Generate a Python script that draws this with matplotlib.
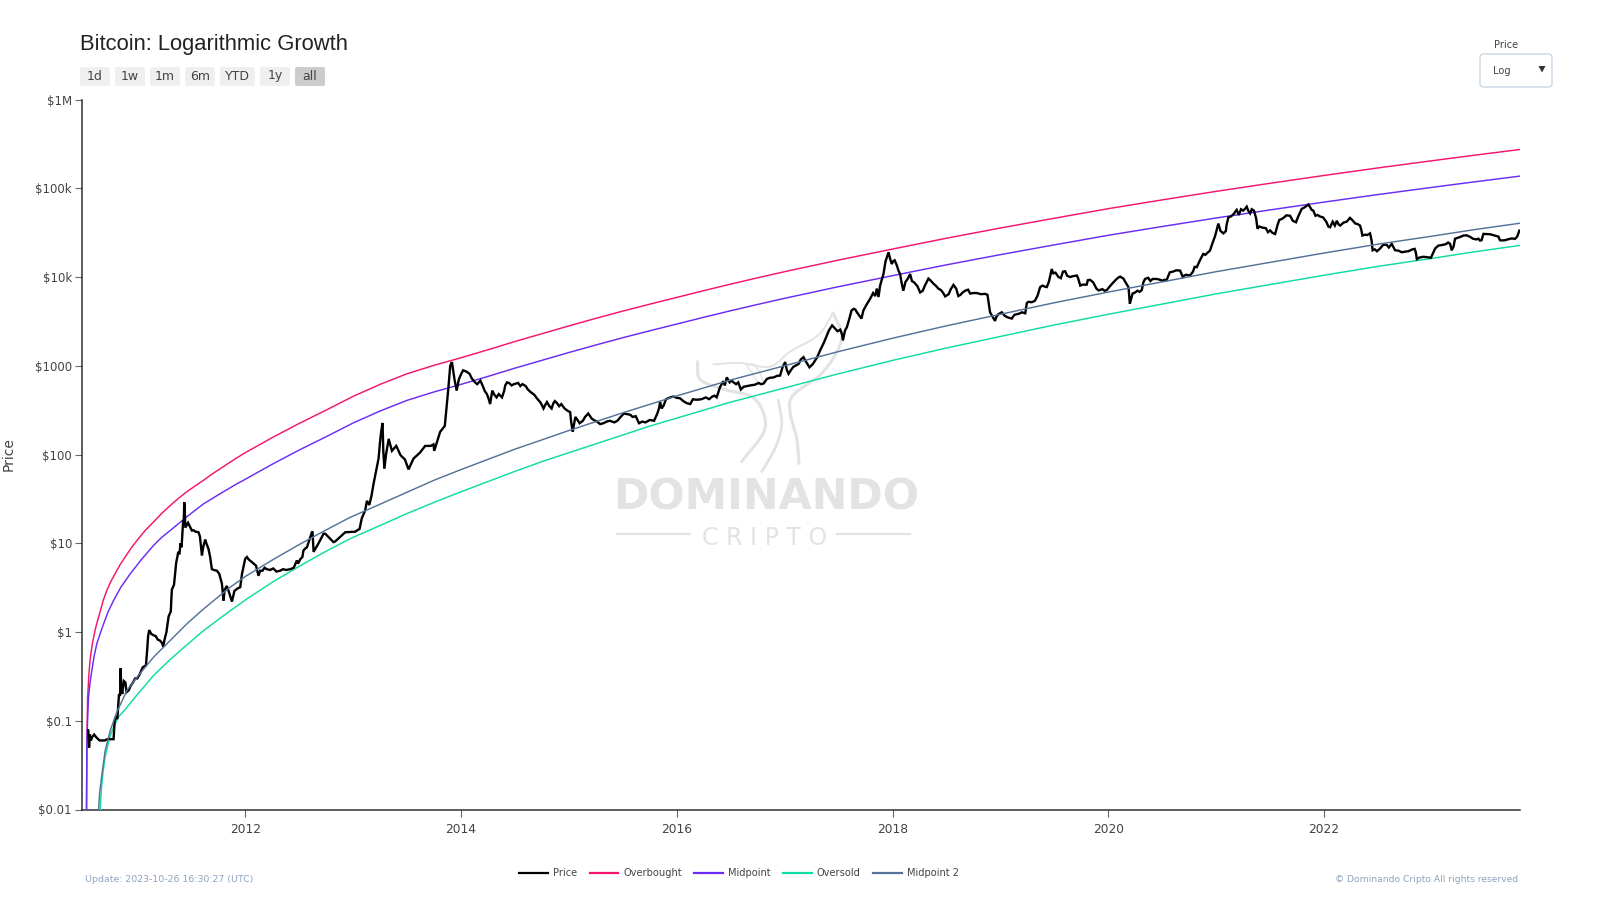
import numpy as np
import matplotlib
matplotlib.use("Agg")
import matplotlib.pyplot as plt
from matplotlib.lines import Line2D
from matplotlib.patches import FancyBboxPatch, Polygon

# ---------- data ----------
price_t = [2010.545,2010.553,2010.56,2010.57,2010.58,2010.60,2010.62,2010.65,2010.70,2010.72,2010.75,2010.78,2010.79,2010.80,2010.815,2010.83,2010.84,2010.845,2010.85,2010.86,2010.875,2010.89,2010.90,2010.92,2010.94,2010.96,2010.98,
2011.00,2011.02,2011.05,2011.08,2011.09,2011.10,2011.11,2011.13,2011.15,2011.17,2011.19,2011.21,2011.23,2011.24,2011.25,2011.27,2011.29,2011.31,2011.32,2011.34,2011.36,2011.38,2011.39,2011.40,2011.41,2011.42,2011.425,2011.43,2011.435,2011.44,2011.445,2011.47,2011.506,2011.567,2011.599,2011.629,2011.66,2011.691,2011.738,2011.784,2011.799,2011.83,2011.877,2011.954,
2012.00,2012.016,2012.077,2012.123,2012.139,2012.20,2012.324,2012.417,2012.479,2012.51,2012.54,2012.572,2012.618,2012.624,2012.634,2012.68,2012.726,2012.742,2012.818,2012.835,2012.927,
2013.02,2013.035,2013.112,2013.128,2013.19,2013.236,2013.273,2013.28,2013.29,2013.305,2013.33,2013.36,2013.40,2013.44,2013.48,2013.514,2013.56,2013.62,2013.668,2013.72,2013.745,2013.752,2013.807,2013.85,2013.884,2013.90,2013.916,2013.94,2013.96,
2014.02,2014.08,2014.13,2014.18,2014.24,2014.27,2014.29,2014.33,2014.38,2014.427,2014.49,2014.57,2014.65,2014.734,2014.765,2014.797,2014.84,2014.87,2014.93,
2015.012,2015.035,2015.06,2015.10,2015.18,2015.26,2015.29,2015.42,2015.54,2015.62,2015.65,2015.79,2015.846,2015.86,2015.94,
2016.03,2016.125,2016.17,2016.30,2016.37,2016.40,2016.464,2016.49,2016.526,2016.57,2016.594,2016.68,2016.805,2016.835,2016.958,
2017.005,2017.036,2017.10,2017.175,2017.23,2017.30,2017.36,2017.41,2017.44,2017.515,2017.54,2017.577,2017.64,2017.67,2017.712,2017.793,2017.854,2017.87,2017.916,2017.963,2017.993,
2018.02,2018.07,2018.10,2018.163,2018.256,2018.333,2018.425,2018.488,2018.565,2018.61,2018.673,2018.858,2018.904,2018.95,
2019.013,2019.105,2019.23,2019.26,2019.32,2019.368,2019.43,2019.476,2019.538,2019.60,2019.645,2019.708,2019.74,2019.83,2019.91,2019.985,
2020.047,2020.11,2020.187,2020.20,2020.248,2020.31,2020.34,2020.45,2020.54,2020.57,2020.666,2020.69,2020.758,2020.82,2020.88,2020.943,
2021.02,2021.067,2021.113,2021.16,2021.283,2021.314,2021.35,2021.383,2021.50,2021.546,2021.608,2021.685,2021.74,2021.793,2021.855,2021.90,2021.963,
2022.056,2022.118,2022.15,2022.24,2022.333,2022.355,2022.426,2022.45,2022.55,2022.627,2022.658,2022.72,2022.84,2022.86,2022.99,
2023.06,2023.168,2023.183,2023.214,2023.29,2023.446,2023.477,2023.616,2023.65,2023.77,2023.81]
price_v = [0.078,0.05,0.07,0.06,0.065,0.07,0.065,0.06,0.06,0.062,0.062,0.062,0.10,0.11,0.105,0.20,0.19,0.39,0.25,0.20,0.28,0.27,0.21,0.22,0.25,0.27,0.30,
0.30,0.33,0.40,0.42,0.60,0.90,1.05,0.95,0.92,0.90,0.82,0.80,0.75,0.68,0.80,1.0,1.5,1.7,3.0,3.4,6,8,7.5,10,9,14,18,17,29,23,15,17,13.9,13.3,7.3,11,8.6,5.1,4.9,3.5,2.26,3.3,2.2,3.2,
6.7,7,5.9,4.3,4.9,5.1,4.9,5.1,6.4,6.6,8.3,9,13.3,13.3,8,10,12.8,12.8,10.3,10.5,13.3,
13.5,13.9,23.5,30,47,90,227,110,69,100,150,110,125,98,88,68,90,105,125,125,130,110,180,210,575,1000,1100,700,525,
890,810,650,680,480,370,525,440,440,650,620,620,500,390,330,390,330,400,370,
300,180,265,225,290,235,220,230,285,270,225,240,390,330,440,
430,370,415,420,440,570,740,650,650,650,540,600,630,710,775,
1100,810,1000,1250,960,1240,1780,2500,2850,2550,1930,2720,4380,4000,3400,5700,7400,5950,10800,19000,14000,
15400,10800,7000,10800,6700,9600,7400,6050,8150,6100,7000,6460,4000,3200,
4000,3400,3900,5250,5400,7700,7700,12300,10000,11600,10000,10400,8000,9300,7050,7100,
8700,10100,7680,5000,6700,7100,9500,9500,9200,11300,11800,10000,10400,12900,18200,19900,
40000,31000,47000,51000,62000,52000,56000,35000,33500,30500,45000,49000,41400,58600,65600,56000,48000,
36300,43000,38000,46400,38000,29300,31000,20000,23200,23600,20000,19000,20750,15900,16450,
22600,23600,20000,27000,29300,25700,30600,28500,25800,26900,33300]

# finer readings of the price wiggle between the main turning points
detail_t = [2011.52,2011.54,2011.58,2011.61,2011.64,2011.675,2011.71,2011.76,2011.81,2011.85,2011.90,2011.93,2011.97,2011.985,2012.03,
2012.05,2012.10,2012.16,2012.18,2012.23,2012.26,2012.29,2012.35,2012.38,2012.45,2012.49,2012.53,2012.56,
2013.06,2013.08,2013.15,2013.17,2013.21,2013.25,2013.26,
2013.98,2014.00,2014.05,2014.10,2014.15,2014.21,2014.22,2014.255,2014.31,2014.35,2014.40,2014.41,2014.445,2014.47,2014.53,2014.55,2014.60,2014.62,2014.68,2014.71,2014.75,2014.78,2014.82,2014.855,2014.89,2014.91,2014.96,2014.99,
2015.02,2015.08,2015.13,2015.15,2015.21,2015.23,2015.32,2015.35,2015.38,2015.45,2015.48,2015.51,2015.57,2015.59,2015.68,2015.71,2015.75,2015.82,2015.835,2015.88,2015.90,2015.97,
2016.00,2016.06,2016.09,2016.15,2016.20,2016.23,2016.27,2016.33,2016.35,2016.43,2016.445,2016.51,2016.55,2016.62,2016.65,2016.72,2016.76,2016.78,2016.86,2016.90,2016.93,2016.98,
2017.02,2017.06,2017.08,2017.13,2017.15,2017.20,2017.26,2017.33,2017.385,2017.47,2017.49,2017.53,2017.56,2017.60,2017.62,2017.655,2017.69,2017.73,2017.76,2017.82,2017.84,2017.885,2017.90,2017.935,2017.95,2017.975,
2018.005,2018.04,2018.055,2018.085,2018.12,2018.14,2018.18,2018.20,2018.23,2018.28,2018.30,2018.35,2018.38,2018.40,2018.45,2018.47,2018.52,2018.54,2018.59,2018.63,2018.65,2018.70,2018.72,2018.75,2018.78,2018.82,2018.88,2018.92,2018.96,2018.98,
2019.04,2019.07,2019.13,2019.17,2019.20,2019.245,2019.29,2019.345,2019.39,2019.41,2019.45,2019.49,2019.51,2019.56,2019.58,2019.62,2019.67,2019.72,2019.76,2019.80,2019.81,2019.86,2019.89,2019.945,2019.965,
2020.02,2020.07,2020.09,2020.14,2020.16,2020.205,2020.225,2020.27,2020.29,2020.325,2020.37,2020.39,2020.41,2020.48,2020.50,2020.52,2020.60,2020.63,2020.70,2020.72,2020.785,2020.80,2020.85,2020.90,2020.92,2020.96,2020.99,
2021.04,2021.09,2021.095,2021.135,2021.19,2021.21,2021.23,2021.25,2021.27,2021.30,2021.33,2021.37,2021.40,2021.43,2021.46,2021.48,2021.52,2021.57,2021.585,2021.63,2021.65,2021.71,2021.76,2021.82,2021.875,2021.885,2021.92,2021.94,2021.99,
2022.02,2022.04,2022.08,2022.10,2022.135,2022.18,2022.21,2022.26,2022.29,2022.31,2022.345,2022.38,2022.40,2022.44,2022.47,2022.49,2022.52,2022.58,2022.60,2022.64,2022.69,2022.75,2022.78,2022.82,2022.85,2022.88,2022.92,2022.96,
2023.03,2023.10,2023.13,2023.15,2023.20,2023.25,2023.27,2023.32,2023.35,2023.38,2023.41,2023.43,2023.46,2023.50,2023.54,2023.58,2023.63,2023.68,2023.70,2023.74,2023.79]
detail_v = [14,13.5,12,9,10,7,5.0,4.5,3,2.8,2.9,3.1,4.5,5.5,6.6,
6.3,5.6,4.9,5.3,5.0,5.2,4.8,5.1,5.0,5.3,5.9,7.0,8.8,
14.5,19,27,34,62,140,180,
700,800,860,720,620,560,520,430,470,480,520,600,640,600,640,590,590,540,470,420,360,360,350,375,380,350,330,310,
240,245,240,265,255,245,225,235,240,240,265,290,280,265,235,230,245,290,330,360,420,450,
435,400,380,420,415,420,440,450,460,670,600,680,620,580,590,610,640,620,730,740,770,960,
900,900,970,1050,1180,1100,1040,1500,2100,2600,2450,2300,2500,3400,4200,4300,3700,4200,4900,6600,6100,8000,9300,15000,17000,16500,
15000,13500,11800,8500,8800,9500,9000,8700,7900,7000,8000,9200,8400,8000,7100,6600,6400,7300,7400,6300,6700,7200,6500,6600,6600,6400,6300,3700,3500,3800,
3650,3500,3750,3850,4000,5100,5200,6200,8000,7800,8900,11000,11200,9700,11500,10300,10200,9700,8200,8200,9200,8700,7400,7300,7000,
8000,9300,9800,9600,8700,5300,6500,7000,6800,8700,9800,9000,9500,9300,9100,9300,11500,11900,10300,10600,11500,13000,15500,17800,18800,23000,29000,
33000,33000,38000,48000,57000,50000,58000,56000,59000,55000,58000,46000,37000,36000,35500,32000,31500,39000,44000,47000,49500,43000,48000,61000,60000,57000,49000,50000,47000,
42000,37000,42000,38000,39000,41000,42000,44000,40000,39500,34000,30000,29700,26000,20500,19500,21000,23000,21500,22000,19800,19300,19500,20500,19000,16500,16900,16700,
21000,23000,23500,24500,22000,28000,28500,29500,28500,27000,26500,27000,26000,30500,30300,29300,26000,26000,26500,27200,28500]

over_t = [2010.528,2010.531,2010.535,2010.539,2010.55,2010.563,2010.585,2010.61,2010.632,2010.656,2010.685,2010.718,2010.755,2010.80,2010.841,2010.89,2010.94,2010.996,2011.07,2011.15,2011.225,2011.305,2011.38,2011.459,2011.535,2011.614,2011.70,2011.80,2011.90,2012,2012.25,2012.5,2012.75,2013,2013.25,2013.5,2013.75,2014,2014.25,2014.5,2014.75,2015,2015.25,2015.5,2015.75,2016,2016.25,2016.5,2016.75,2017,2017.5,2018,2018.5,2019,2019.5,2020,2020.5,2021,2021.5,2022,2022.5,2023,2023.4,2023.816]
over_log = [-2.0,-1.6,-1.1,-0.75,-0.5,-0.30,-0.12,0.03,0.13,0.23,0.36,0.47,0.57,0.67,0.76,0.85,0.94,1.03,1.14,1.24,1.335,1.425,1.505,1.58,1.645,1.71,1.785,1.865,1.945,2.02,2.19,2.35,2.50,2.655,2.79,2.91,3.005,3.09,3.18,3.273,3.361,3.449,3.534,3.616,3.694,3.77,3.846,3.92,3.991,4.06,4.191,4.315,4.437,4.552,4.662,4.77,4.869,4.965,5.056,5.144,5.229,5.31,5.373,5.437]
mid_t = [2010.53,2010.532,2010.54,2010.548,2010.563,2010.579,2010.60,2010.625,2010.655,2010.687,2010.73,2010.78,2010.85,2010.934,2011.04,2011.15,2011.225,2011.305,2011.46,2011.614,2011.77,2011.923,2012,2012.25,2012.5,2012.75,2013,2013.25,2013.5,2013.75,2014,2014.25,2014.5,2014.75,2015,2015.25,2015.5,2015.75,2016,2016.25,2016.5,2016.75,2017,2017.5,2018,2018.5,2019,2019.5,2020,2020.5,2021,2021.5,2022,2022.5,2023,2023.4,2023.816]
mid_log = [-2.0,-1.3,-0.95,-0.73,-0.56,-0.43,-0.27,-0.13,-0.02,0.09,0.23,0.355,0.51,0.655,0.82,0.975,1.065,1.144,1.30,1.444,1.56,1.67,1.72,1.89,2.05,2.20,2.355,2.49,2.61,2.705,2.79,2.88,2.973,3.061,3.149,3.234,3.316,3.394,3.47,3.546,3.62,3.691,3.76,3.891,4.015,4.137,4.252,4.362,4.47,4.569,4.665,4.756,4.844,4.929,5.01,5.073,5.137]
sold_t = [2010.656,2010.665,2010.68,2010.70,2010.74,2010.78,2010.83,2010.89,2010.996,2011.06,2011.15,2011.305,2011.444,2011.614,2011.80,2012,2012.25,2012.5,2012.75,2012.97,2013.25,2013.5,2013.75,2014,2014.25,2014.5,2014.75,2015,2015.25,2015.5,2015.75,2016,2016.5,2017,2017.5,2018,2018.5,2019,2019.5,2020,2020.5,2021,2021.5,2022,2022.5,2023,2023.4,2023.816]
sold_log = [-2.0,-1.8,-1.6,-1.42,-1.2,-1.07,-0.95,-0.87,-0.71,-0.62,-0.49,-0.31,-0.16,0.015,0.185,0.36,0.56,0.74,0.91,1.05,1.20,1.335,1.46,1.58,1.695,1.81,1.92,2.02,2.12,2.22,2.32,2.41,2.59,2.75,2.91,3.06,3.20,3.33,3.46,3.58,3.695,3.81,3.915,4.02,4.12,4.21,4.285,4.356]
mid2_t = [2010.641,2010.65,2010.672,2010.702,2010.749,2010.811,2010.903,2010.996,2011.15,2011.274,2011.459,2011.614,2011.861,2012,2012.25,2012.5,2012.75,2012.97,2013.25,2013.5,2013.75,2014,2014.25,2014.5,2015,2015.5,2016,2016.5,2017,2017.5,2018,2018.5,2019,2019.5,2020,2020.5,2021,2021.5,2022,2022.5,2023,2023.4,2023.816]
mid2_log = [-2.0,-1.82,-1.60,-1.335,-1.11,-0.90,-0.66,-0.51,-0.284,-0.133,0.092,0.26,0.505,0.625,0.81,0.985,1.15,1.29,1.44,1.575,1.71,1.83,1.945,2.06,2.27,2.47,2.66,2.84,3.0,3.16,3.31,3.45,3.58,3.71,3.83,3.945,4.06,4.165,4.27,4.37,4.46,4.535,4.606]

x_tick_years = [2012,2014,2016,2018,2020,2022]
y_tick_vals = [0.01,0.1,1,10,100,1000,1e4,1e5,1e6]
y_tick_labels = ["$0.01","$0.1","$1","$10","$100","$1000","$10k","$100k","$1M"]
buttons = ["1d","1w","1m","6m","YTD","1y","all"]

C_PRICE,C_OVER,C_MID,C_SOLD,C_MID2 = "#000000","#f5146e","#6a2cf5","#0fdca2","#557299"
TXT = "#444444"

W,H = 1600,900
fig = plt.figure(figsize=(16,9),dpi=100,facecolor="white")

bg = fig.add_axes([0,0,1,1],zorder=0)
bg.set_xlim(0,W); bg.set_ylim(H,0); bg.axis("off")

L,R,T,B = 82.3,1520,99.5,809.5
ax = fig.add_axes([L/W,1-B/H,(R-L)/W,(B-T)/H],zorder=1)
ax.patch.set_visible(False)
ax.set_yscale("log")
ax.set_xlim(2010.49,2023.816); ax.set_ylim(0.01,1e6)

pt = np.array(price_t+detail_t); pv = np.array(price_v+detail_v,float)
o = np.argsort(pt,kind="stable")
ax.plot(over_t,10**np.array(over_log),color=C_OVER,lw=1.05,label="Overbought",zorder=3)
ax.plot(mid_t,10**np.array(mid_log),color=C_MID,lw=1.05,label="Midpoint",zorder=3)
ax.plot(sold_t,10**np.array(sold_log),color=C_SOLD,lw=1.05,label="Oversold",zorder=3)
ax.plot(pt[o],pv[o],color=C_PRICE,lw=1.7,label="Price",zorder=4,solid_joinstyle="miter")
ax.plot(mid2_t,10**np.array(mid2_log),color=C_MID2,lw=1.05,label="Midpoint 2",zorder=5)

for s in ("top","right"): ax.spines[s].set_visible(False)
for s in ("left","bottom"):
    ax.spines[s].set_color("#333333"); ax.spines[s].set_linewidth(1.1)
ax.set_xticks(x_tick_years); ax.set_xticklabels([str(y) for y in x_tick_years])
ax.set_yticks(y_tick_vals); ax.set_yticklabels(y_tick_labels)
ax.minorticks_off()
ax.tick_params(axis="x",length=5,width=0.8,color="#666666",labelcolor=TXT,labelsize=8.8,pad=5)
ax.tick_params(axis="y",length=5,width=0.8,color="#666666",labelcolor=TXT,labelsize=8.5,pad=2.5)

order = ["Price","Overbought","Midpoint","Oversold","Midpoint 2"]
cols = [C_PRICE,C_OVER,C_MID,C_SOLD,C_MID2]
leg_handles = [Line2D([0],[0],color=c,lw=1.6) for c in cols]
fig.legend(leg_handles,order,loc="center",bbox_to_anchor=(739/W,1-873.5/H),bbox_transform=fig.transFigure,
           ncol=5,frameon=False,fontsize=7.1,labelcolor=TXT,handlelength=2.9,handletextpad=0.5,
           columnspacing=1.28,borderpad=0,borderaxespad=0)

bg.text(80,50,"Bitcoin: Logarithmic Growth",fontsize=15.85,family="Liberation Sans",color="#222222",va="baseline",ha="left")
fig.text(9/W,1-454/H,"Price",rotation=90,fontsize=10,color=TXT,ha="center",va="center")
bg.text(85,879,"Update: 2023-10-26 16:30:27 (UTC)",fontsize=6.72,color="#8ea3bf",ha="left",va="center")
bg.text(1518,879,"© Dominando Cripto All rights reserved",fontsize=6.55,color="#8ea3bf",ha="right",va="center")

btn_x = [(80,110),(115,145),(150,180),(185,215),(220,255),(260,290),(295,325)]
for (x0,x1),lab in zip(btn_x,buttons):
    col = "#cccccc" if lab=="all" else "#eeefef"
    bg.add_patch(FancyBboxPatch((x0+2,69),x1-x0-4,15,boxstyle="round,pad=2",fc=col,ec="none"))
    bg.text((x0+x1)/2,76,lab,fontsize=9,color=TXT,ha="center",va="center")

bg.add_patch(FancyBboxPatch((1483,57),66,27,boxstyle="round,pad=3",fc="white",ec="#b4c6d8",lw=0.7))
bg.text(1506,45,"Price",fontsize=7.1,color=TXT,ha="center",va="center")
bg.text(1492.5,71,"Log",fontsize=7.1,color=TXT,ha="left",va="center")
bg.add_patch(Polygon([(1538.5,66),(1545.5,66),(1542,72.5)],closed=True,fc="#333333",ec="none"))

WM = "#e3e3e3"
def spline(pts,n=24):
    p = np.array(pts,float)
    p = np.vstack([2*p[0]-p[1],p,2*p[-1]-p[-2]])
    out = []
    for i in range(1,len(p)-2):
        s = np.linspace(0,1,n)[:,None]
        a,b,c,d = p[i-1],p[i],p[i+1],p[i+2]
        out.append(0.5*((2*b)+(-a+c)*s+(2*a-5*b+4*c-d)*s**2+(-a+3*b-3*c+d)*s**3))
    return np.vstack(out)
strokes = [
 ([(52,110),(62,165),(140,195),(225,222),(255,310),(185,410)],2.2),
 ([(295,225),(305,300),(285,370),(245,440)],2.0),
 ([(459,-36),(486,30),(465,90),(420,150),(340,210),(330,260),(350,340),(357,415)],2.2),
 ([(100,118),(180,114),(270,125),(330,80),(415,30),(459,-36)],1.4),
 ([(195,115),(210,135),(235,175)],1.0),
 ([(215,115),(235,135),(250,170)],1.0),
]
for pts,lw in strokes:
    c = spline(pts)
    bg.plot(680+c[:,0]/3,325+c[:,1]/3,color=WM,lw=lw,solid_capstyle="round")
bg.text(766,498,"DOMINANDO",fontsize=30.8,family="DejaVu Sans",weight="bold",color=WM,ha="center",va="center")
bg.text(765,538,"C R I P T O",fontsize=17,family="DejaVu Sans",color=WM,ha="center",va="center")
bg.plot([617,690],[534,534],color=WM,lw=1.5)
bg.plot([837,910],[534,534],color=WM,lw=1.5)

fig.savefig("out.png",dpi=100)
